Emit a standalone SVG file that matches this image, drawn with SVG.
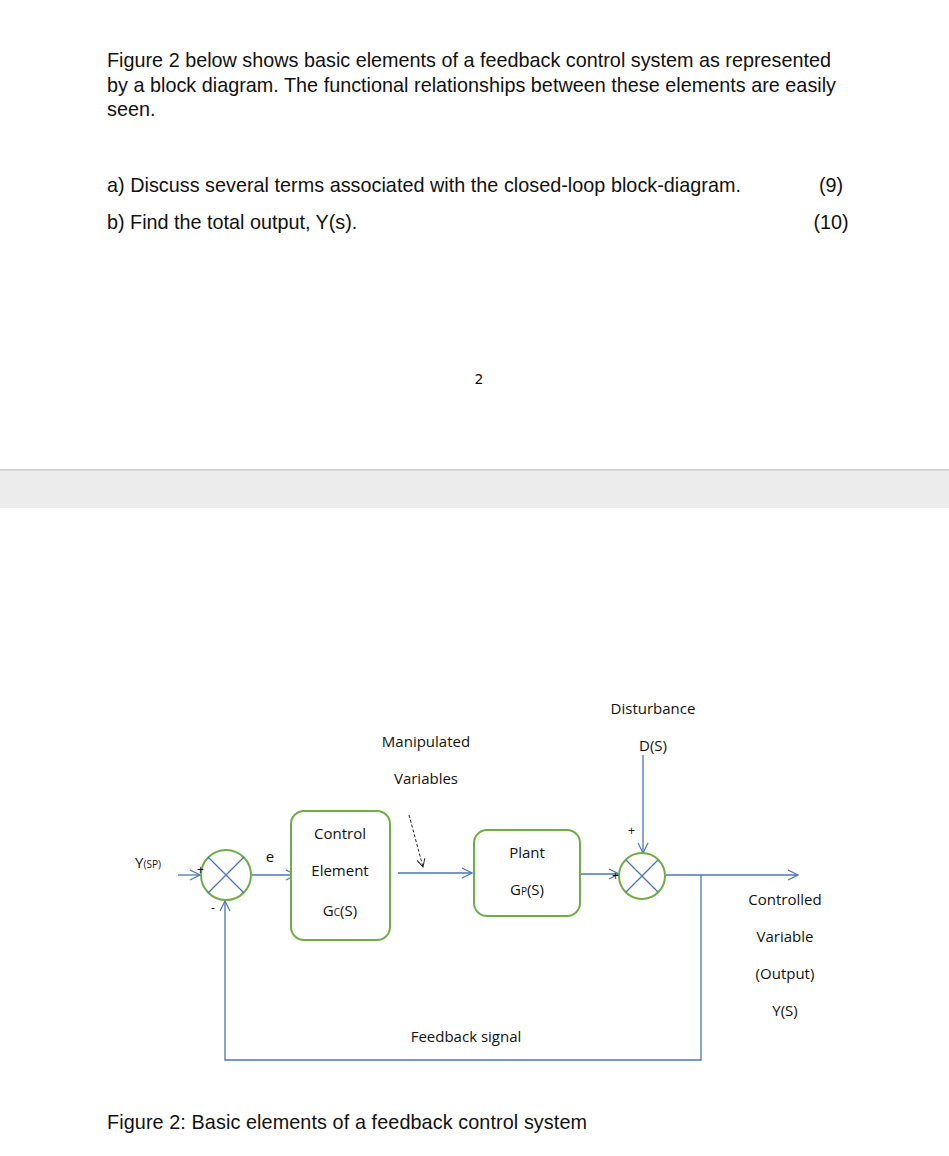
<svg xmlns="http://www.w3.org/2000/svg" width="949" height="1156" viewBox="0 0 949 1156">
<style>
.q{font-family:"Liberation Sans",Arial,sans-serif;font-size:19.8px;fill:#111}
.d{font-family:"Open Sans","Liberation Sans",sans-serif;font-size:15px;fill:#111}
.box{fill:#fff;stroke:#70ad47;stroke-width:2}
.ln{stroke:#4a76b8;stroke-width:1.3;fill:none}
</style>
<defs>
<marker id="a" markerWidth="12" markerHeight="12" refX="11" refY="6" orient="auto" markerUnits="userSpaceOnUse">
<path d="M1,1 L11,6 L1,11" fill="none" stroke="#4a76b8" stroke-width="1.2"/>
</marker>
<marker id="k" markerWidth="10" markerHeight="10" refX="9" refY="5" orient="auto" markerUnits="userSpaceOnUse">
<path d="M1,1 L9,5 L1,9" fill="none" stroke="#222" stroke-width="1"/>
</marker>
</defs>
<rect width="949" height="1156" fill="#fff"/>
<rect x="0" y="470" width="949" height="38" fill="#ececec"/>
<line x1="0" y1="470" x2="949" y2="470" stroke="#d4d4d4" stroke-width="2"/>
<g id="question">
<text class="q" x="107" y="67" textLength="724">Figure 2 below shows basic elements of a feedback control system as represented</text>
<text class="q" x="107" y="92" textLength="729">by a block diagram. The functional relationships between these elements are easily</text>
<text class="q" x="107" y="116">seen.</text>
<text class="q" x="107" y="192" textLength="634">a) Discuss several terms associated with the closed-loop block-diagram.</text>
<text class="q" x="831" y="192" text-anchor="middle">(9)</text>
<text class="q" x="107" y="229">b) Find the total output, Y(s).</text>
<text class="q" x="831" y="229" text-anchor="middle">(10)</text>
<text x="479" y="384" text-anchor="middle" style="font-family:'DejaVu Sans',sans-serif;font-size:14px;fill:#111">2</text>
</g>
<g id="connectors">
<line class="ln" x1="178" y1="875" x2="200" y2="875" marker-end="url(#a)"/>
<line class="ln" x1="252" y1="875" x2="296" y2="875" marker-end="url(#a)"/>
<line class="ln" x1="398" y1="873" x2="472" y2="873" marker-end="url(#a)"/>
<line class="ln" x1="581" y1="874" x2="619" y2="874" marker-end="url(#a)"/>
<line class="ln" x1="643" y1="755" x2="643" y2="853" marker-end="url(#a)"/>
<line class="ln" x1="666" y1="875" x2="798" y2="875" marker-end="url(#a)"/>
<polyline class="ln" points="701,875 701,1060 225,1060 225,901" marker-end="url(#a)"/>
<line x1="409" y1="815" x2="423" y2="867" stroke="#222" stroke-width="1" stroke-dasharray="3,2" marker-end="url(#k)"/>
</g>
<g id="sum1">
<circle cx="226" cy="875" r="25" fill="#fff" stroke="#70ad47" stroke-width="2"/>
<path class="ln" d="M208,857 L244,893 M244,857 L208,893"/>
<text class="d" x="197" y="874" style="font-size:12px">+</text>
<text class="d" x="211" y="912" style="font-size:12px">-</text>
</g>
<g id="control">
<rect class="box" x="291" y="811" width="99" height="129" rx="13"/>
<text class="d" x="340" y="839" text-anchor="middle">Control</text>
<text class="d" x="340" y="876" text-anchor="middle">Element</text>
<text class="d" x="340" y="916" text-anchor="middle">G<tspan font-size="10">C</tspan>(S)</text>
</g>
<g id="plant">
<rect class="box" x="474" y="830" width="106" height="86" rx="13"/>
<text class="d" x="527" y="858" text-anchor="middle">Plant</text>
<text class="d" x="527" y="895" text-anchor="middle">G<tspan font-size="10">P</tspan>(S)</text>
</g>
<g id="sum2">
<circle cx="642" cy="876" r="23" fill="#fff" stroke="#70ad47" stroke-width="2"/>
<path class="ln" d="M626,860 L658,892 M658,860 L626,892"/>
<text class="d" x="612" y="880" style="font-size:12px">+</text>
<text class="d" x="628" y="835" style="font-size:12px">+</text>
</g>
<g id="labels">
<text class="d" x="148" y="868" text-anchor="middle">Y<tspan font-size="10">(SP)</tspan></text>
<text class="d" x="270" y="862" text-anchor="middle">e</text>
<text class="d" x="426" y="747" text-anchor="middle">Manipulated</text>
<text class="d" x="426" y="784" text-anchor="middle">Variables</text>
<text class="d" x="653" y="714" text-anchor="middle">Disturbance</text>
<text class="d" x="653" y="751" text-anchor="middle">D(S)</text>
<text class="d" x="785" y="905" text-anchor="middle">Controlled</text>
<text class="d" x="785" y="942" text-anchor="middle">Variable</text>
<text class="d" x="785" y="979" text-anchor="middle">(Output)</text>
<text class="d" x="785" y="1016" text-anchor="middle">Y(S)</text>
<text class="d" x="466" y="1042" text-anchor="middle">Feedback signal</text>
<text class="q" x="107" y="1129" textLength="480">Figure 2:  Basic elements of a feedback control system</text>
</g>
</svg>
